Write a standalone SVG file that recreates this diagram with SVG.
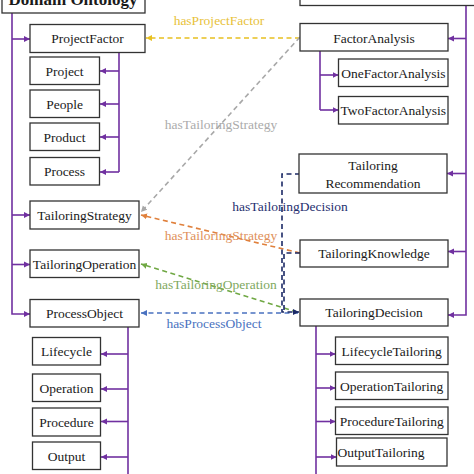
<svg xmlns="http://www.w3.org/2000/svg" width="474" height="474" viewBox="0 0 474 474">
<style>
.box{fill:#fff;stroke:#333;stroke-width:1.3}
.t{font-family:"Liberation Serif","Times New Roman",serif;font-size:13.5px;fill:#1a1a1a;text-anchor:middle}
.lb{font-family:"Liberation Serif","Times New Roman",serif;font-size:13.5px;text-anchor:middle}
.p{fill:none;stroke:#7030A0;stroke-width:1.6}
.pa{fill:none;stroke:#7030A0;stroke-width:1.6;marker-end:url(#mp)}
.d{fill:none;stroke-width:1.6;stroke-dasharray:5 3.5}
</style>
<defs>
<marker id="mp" markerUnits="userSpaceOnUse" markerWidth="7" markerHeight="7" refX="6" refY="3.5" orient="auto"><path d="M0,0.5 L6,3.5 L0,6.5 z" fill="#7030A0"/></marker>
<marker id="my" markerUnits="userSpaceOnUse" markerWidth="7" markerHeight="7" refX="6" refY="3.5" orient="auto"><path d="M0,0.5 L6,3.5 L0,6.5 z" fill="#E8C020"/></marker>
<marker id="mg" markerUnits="userSpaceOnUse" markerWidth="7" markerHeight="7" refX="6" refY="3.5" orient="auto"><path d="M0,0.5 L6,3.5 L0,6.5 z" fill="#A8A8A8"/></marker>
<marker id="mo" markerUnits="userSpaceOnUse" markerWidth="7" markerHeight="7" refX="6" refY="3.5" orient="auto"><path d="M0,0.5 L6,3.5 L0,6.5 z" fill="#E0803C"/></marker>
<marker id="mgr" markerUnits="userSpaceOnUse" markerWidth="7" markerHeight="7" refX="6" refY="3.5" orient="auto"><path d="M0,0.5 L6,3.5 L0,6.5 z" fill="#70A844"/></marker>
<marker id="mb" markerUnits="userSpaceOnUse" markerWidth="7" markerHeight="7" refX="6" refY="3.5" orient="auto"><path d="M0,0.5 L6,3.5 L0,6.5 z" fill="#4A72C0"/></marker>
<marker id="mn" markerUnits="userSpaceOnUse" markerWidth="7" markerHeight="7" refX="6" refY="3.5" orient="auto"><path d="M0,0.5 L6,3.5 L0,6.5 z" fill="#1C2A66"/></marker>
</defs>
<rect width="474" height="474" fill="#fff"/>

<g id="connectors">
<path class="p" d="M12,13 V314 H24"/>
<path class="pa" d="M24,314 H30"/>
<path class="pa" d="M12,39 H30"/>
<path class="pa" d="M12,215 H30"/>
<path class="pa" d="M12,264.5 H30"/>
<path class="p" d="M119,52 V172"/>
<path class="pa" d="M119,71 H100"/>
<path class="pa" d="M119,104 H100"/>
<path class="pa" d="M119,137 H100"/>
<path class="pa" d="M119,172 H100"/>
<path class="p" d="M128,327 V474"/>
<path class="pa" d="M128,354 H101"/>
<path class="pa" d="M128,389 H101"/>
<path class="pa" d="M128,421.5 H101"/>
<path class="pa" d="M128,457 H101"/>
<path class="p" d="M466,5 V315 H454"/>
<path class="pa" d="M454,315 H448"/>
<path class="pa" d="M466,38.5 H448"/>
<path class="pa" d="M466,173.5 H447"/>
<path class="pa" d="M466,251.5 H448"/>
<path class="p" d="M320,51 V110"/>
<path class="pa" d="M320,75 H338.5"/>
<path class="pa" d="M320,110 H338.5"/>
<path class="p" d="M316,326 V474"/>
<path class="pa" d="M316,354 H335.5"/>
<path class="pa" d="M316,388 H335.5"/>
<path class="pa" d="M316,421.5 H335.5"/>
<path class="pa" d="M316,457 H336.5"/>
<path class="d" stroke="#E8C020" d="M300,38 H146" marker-end="url(#my)"/>
<path class="d" stroke="#A8A8A8" d="M300,37 L141,212" marker-end="url(#mg)"/>
<path class="d" stroke="#E0803C" d="M300,253 L141,215" marker-end="url(#mo)"/>
<path class="d" stroke="#70A844" d="M297,312 L141,264" marker-end="url(#mgr)"/>
<path class="d" stroke="#4A72C0" d="M298,313 H141" marker-end="url(#mb)"/>
<path class="d" stroke="#1C2A66" stroke-width="2.3" stroke-dasharray="5.5 4" d="M300,174 H282 V312 H299" marker-end="url(#mn)"/>
<path class="d" stroke="#1C2A66" stroke-width="2.3" stroke-dasharray="5.5 4" d="M300,253 H284 V310"/>
</g>

<g id="labels">
<text class="lb" x="219" y="25" fill="#E8C23A">hasProjectFactor</text>
<text class="lb" x="221" y="129" fill="#ABABAB">hasTailoringStrategy</text>
<text class="lb" x="290" y="211" fill="#1F3070">hasTailoringDecision</text>
<text class="lb" x="221" y="240" fill="#E0905A">hasTailoringStrategy</text>
<text class="lb" x="216" y="289" fill="#80A860">hasTailoringOperation</text>
<text class="lb" x="214" y="327.5" fill="#4A72C0">hasProcessObject</text>
</g>

<g id="domain-ontology"><rect class="box" x="2" y="-20" width="143" height="33"/><text class="t" x="73" y="5" style="font-size:17px;font-weight:bold">Domain Ontology</text></g>
<g id="top-right"><rect class="box" x="300" y="-20" width="190" height="25.5"/></g>

<g id="ProjectFactor"><rect class="box" x="30" y="24.5" width="115" height="28"/><text class="t" x="87.5" y="43">ProjectFactor</text></g>
<g id="Project"><rect class="box" x="30" y="57" width="69.5" height="27.5"/><text class="t" x="64.5" y="75.5">Project</text></g>
<g id="People"><rect class="box" x="30" y="90" width="69.5" height="27.5"/><text class="t" x="64.5" y="108.5">People</text></g>
<g id="Product"><rect class="box" x="30" y="123" width="69.5" height="27.5"/><text class="t" x="64.5" y="141.5">Product</text></g>
<g id="Process"><rect class="box" x="30" y="157.5" width="69.5" height="27.5"/><text class="t" x="64.5" y="176">Process</text></g>
<g id="TailoringStrategy"><rect class="box" x="30" y="201" width="109" height="28"/><text class="t" x="84.5" y="219.5">TailoringStrategy</text></g>
<g id="TailoringOperation"><rect class="box" x="30" y="250" width="109" height="27.5"/><text class="t" x="84.5" y="268.5">TailoringOperation</text></g>
<g id="ProcessObject"><rect class="box" x="30" y="299.5" width="109" height="27.5"/><text class="t" x="84.5" y="318">ProcessObject</text></g>
<g id="Lifecycle"><rect class="box" x="32.5" y="337.5" width="68" height="27.5"/><text class="t" x="66.5" y="356">Lifecycle</text></g>
<g id="Operation"><rect class="box" x="32.5" y="374" width="68" height="27.5"/><text class="t" x="66.5" y="392.5">Operation</text></g>
<g id="Procedure"><rect class="box" x="32.5" y="408" width="68" height="28"/><text class="t" x="66.5" y="426.5">Procedure</text></g>
<g id="Output"><rect class="box" x="32.5" y="442" width="68" height="27.5"/><text class="t" x="66.5" y="460.5">Output</text></g>

<g id="FactorAnalysis"><rect class="box" x="300" y="23.5" width="148" height="27.5"/><text class="t" x="374" y="42.5">FactorAnalysis</text></g>
<g id="OneFactorAnalysis"><rect class="box" x="338.5" y="59" width="109.5" height="27.5"/><text class="t" x="393.3" y="77.5">OneFactorAnalysis</text></g>
<g id="TwoFactorAnalysis"><rect class="box" x="338.5" y="96.5" width="109.5" height="27.5"/><text class="t" x="393.3" y="115">TwoFactorAnalysis</text></g>
<g id="TailoringRecommendation"><rect class="box" x="299" y="154" width="148" height="39"/><text class="t" x="373" y="169.5">Tailoring</text><text class="t" x="373" y="187.5">Recommendation</text></g>
<g id="TailoringKnowledge"><rect class="box" x="300" y="240" width="148" height="27"/><text class="t" x="374" y="258">TailoringKnowledge</text></g>
<g id="TailoringDecision"><rect class="box" x="300" y="299" width="148" height="27"/><text class="t" x="374" y="317">TailoringDecision</text></g>
<g id="LifecycleTailoring"><rect class="box" x="335.5" y="337" width="112.5" height="27.5"/><text class="t" x="391.7" y="355.5">LifecycleTailoring</text></g>
<g id="OperationTailoring"><rect class="box" x="335.5" y="372" width="112.5" height="27.5"/><text class="t" x="391.7" y="390.5">OperationTailoring</text></g>
<g id="ProcedureTailoring"><rect class="box" x="335.5" y="407" width="112.5" height="27.5"/><text class="t" x="391.7" y="425.5">ProcedureTailoring</text></g>
<g id="OutputTailoring"><rect class="box" x="336.5" y="438" width="110.5" height="28"/><text class="t" x="381" y="456.5">OutputTailoring</text></g>
</svg>
